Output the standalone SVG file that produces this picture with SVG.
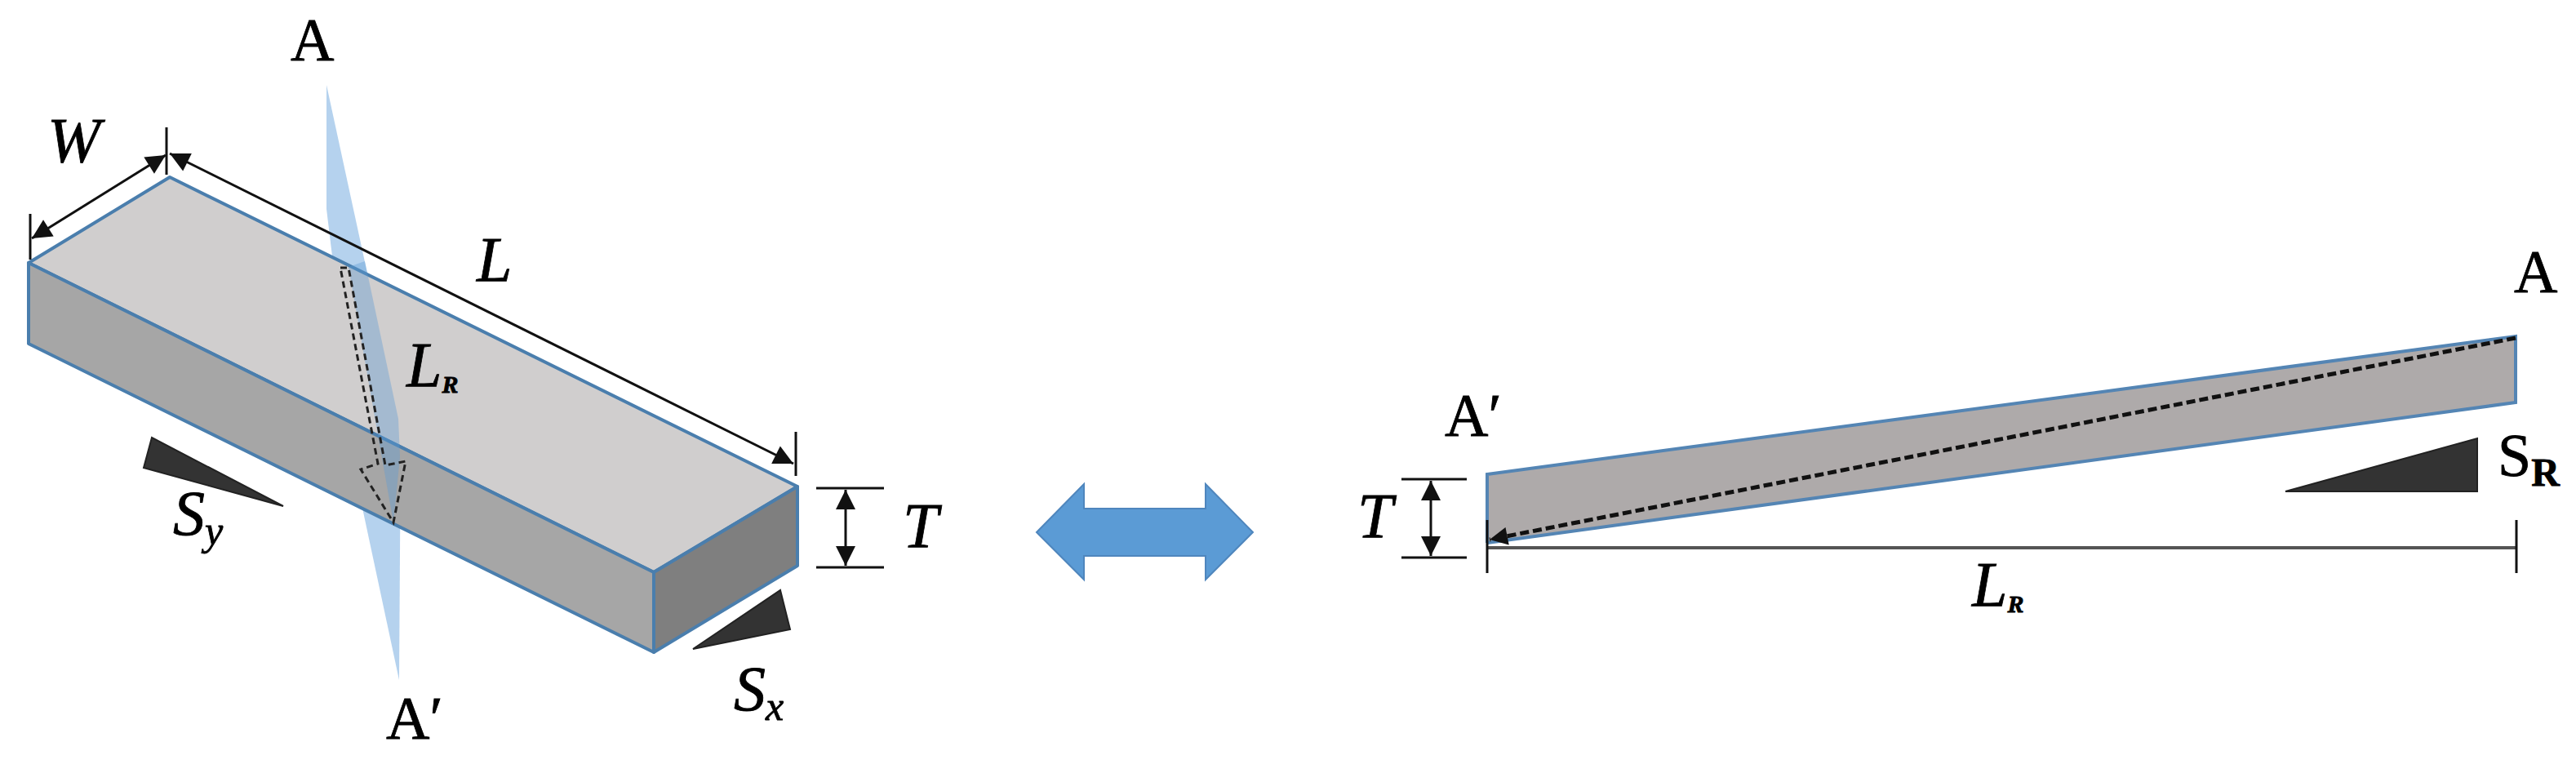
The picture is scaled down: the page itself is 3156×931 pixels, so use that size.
<svg xmlns="http://www.w3.org/2000/svg" width="3156" height="931" viewBox="0 0 3156 931">
<style>
.t{font-family:"Liberation Serif","DejaVu Serif",serif;font-size:74px;fill:#000;stroke:#000;stroke-width:.8}
.i{font-style:italic;font-size:78px}
.e{stroke:#4a7ead;stroke-width:4;stroke-linejoin:round}
.k{stroke:#111;stroke-width:3;fill:none}
.w{fill:#333;stroke:#222;stroke-width:2}
</style>
<defs>
<marker id="ah" viewBox="0 0 10 10" refX="10" refY="5" markerWidth="30" markerHeight="24" markerUnits="userSpaceOnUse" orient="auto-start-reverse"><path d="M0 0L10 5L0 10Z" fill="#111"/></marker>
<marker id="ah2" viewBox="0 0 10 10" refX="10" refY="5" markerWidth="26" markerHeight="22" markerUnits="userSpaceOnUse" orient="auto"><path d="M0 0L10 5L0 10Z" fill="#111"/></marker>
</defs>
<rect width="3156" height="931" fill="#fff"/>
<g id="plane-back"><polygon points="400,104 491,524 489,833 445,627 400,256" fill="#b5d2ee"/></g>
<g id="beam">
<polygon class="e" points="35,322 208,217 977,596 801,701" fill="#d0cece"/>
<polygon class="e" points="35,322 801,701 801,799 35,421" fill="#a6a6a6"/>
<polygon class="e" points="801,701 977,596 977,693 801,799" fill="#7f7f7f"/>
</g>
<g id="plane-front">
<polygon points="427,327 447,320 488,513 490,560 482,640 463,533" fill="#5b9bd5" fill-opacity=".38"/>
<polygon points="417,328 427,328 472,570 497,565 482,640 442,575 463,568" fill="none" stroke="#222" stroke-width="3" stroke-dasharray="8 5"/>
</g>
<g id="slope-y"><polygon class="w" points="186,536 176,573 347,620"/></g>
<g id="slope-x"><polygon class="w" points="956,723 968,771 849,795"/></g>
<g id="double-arrow"><polygon points="1270,652 1328,593 1328,623 1477,623 1477,593 1535,652 1477,710 1477,681 1328,681 1328,710" fill="#5b9bd5" stroke="#4f86bd" stroke-width="2"/></g>
<g id="section">
<polygon points="1822,581 3082,412 3082,493 1822,665" fill="#aeaaaa"/>
<path d="M1822,665V581L3082,412V493L1822,665" fill="none" stroke="#5485b4" stroke-width="4"/>
<polygon class="w" points="2800,602 3035,537 3035,602"/>
</g>
<g id="connectors">
<line class="k" x1="39" y1="292" x2="203" y2="190" marker-start="url(#ah)" marker-end="url(#ah)"/>
<line class="k" x1="208" y1="188" x2="972" y2="568" marker-start="url(#ah)" marker-end="url(#ah)"/>
<line class="k" x1="37" y1="262" x2="37" y2="318"/>
<line class="k" x1="204" y1="156" x2="204" y2="214"/>
<line class="k" x1="975" y1="529" x2="975" y2="583"/>
<line class="k" x1="1000" y1="598" x2="1083" y2="598"/>
<line class="k" x1="1000" y1="695" x2="1083" y2="695"/>
<line class="k" x1="1036" y1="600" x2="1036" y2="693" marker-start="url(#ah)" marker-end="url(#ah)"/>
<line class="k" x1="1717" y1="587" x2="1797" y2="587"/>
<line class="k" x1="1717" y1="683" x2="1797" y2="683"/>
<line class="k" x1="1753" y1="589" x2="1753" y2="681" marker-start="url(#ah)" marker-end="url(#ah)"/>
<line x1="1822" y1="671" x2="3082" y2="671" stroke="#555" stroke-width="4"/>
<line class="k" x1="1822" y1="637" x2="1822" y2="702"/>
<line class="k" x1="3083" y1="637" x2="3083" y2="702"/>
<line x1="3082" y1="414" x2="1825" y2="661" stroke="#111" stroke-width="5" stroke-dasharray="11 5" marker-end="url(#ah2)"/>
</g>
<g id="labels">
<text class="t" x="356" y="74">A</text>
<text class="t i" x="58" y="198">W</text>
<text class="t i" x="584" y="344">L</text>
<text class="t i" x="498" y="473">L<tspan font-size="30" font-weight="bold" dy="8">R</tspan></text>
<text class="t i" x="212" y="655">S<tspan font-size="50" dy="12">y</tspan></text>
<text class="t i" x="899" y="870">S<tspan font-size="50" dy="12">x</tspan></text>
<text class="t" x="473" y="905">A′</text>
<text class="t i" x="1106" y="670">T</text>
<text class="t i" x="1663" y="658">T</text>
<text class="t" x="3080" y="358">A</text>
<text class="t" x="1770" y="534">A′</text>
<text class="t" x="3060" y="583">S<tspan font-size="48" font-weight="bold" dy="12">R</tspan></text>
<text class="t i" x="2416" y="742">L<tspan font-size="30" font-weight="bold" dy="8">R</tspan></text>
</g>
</svg>
